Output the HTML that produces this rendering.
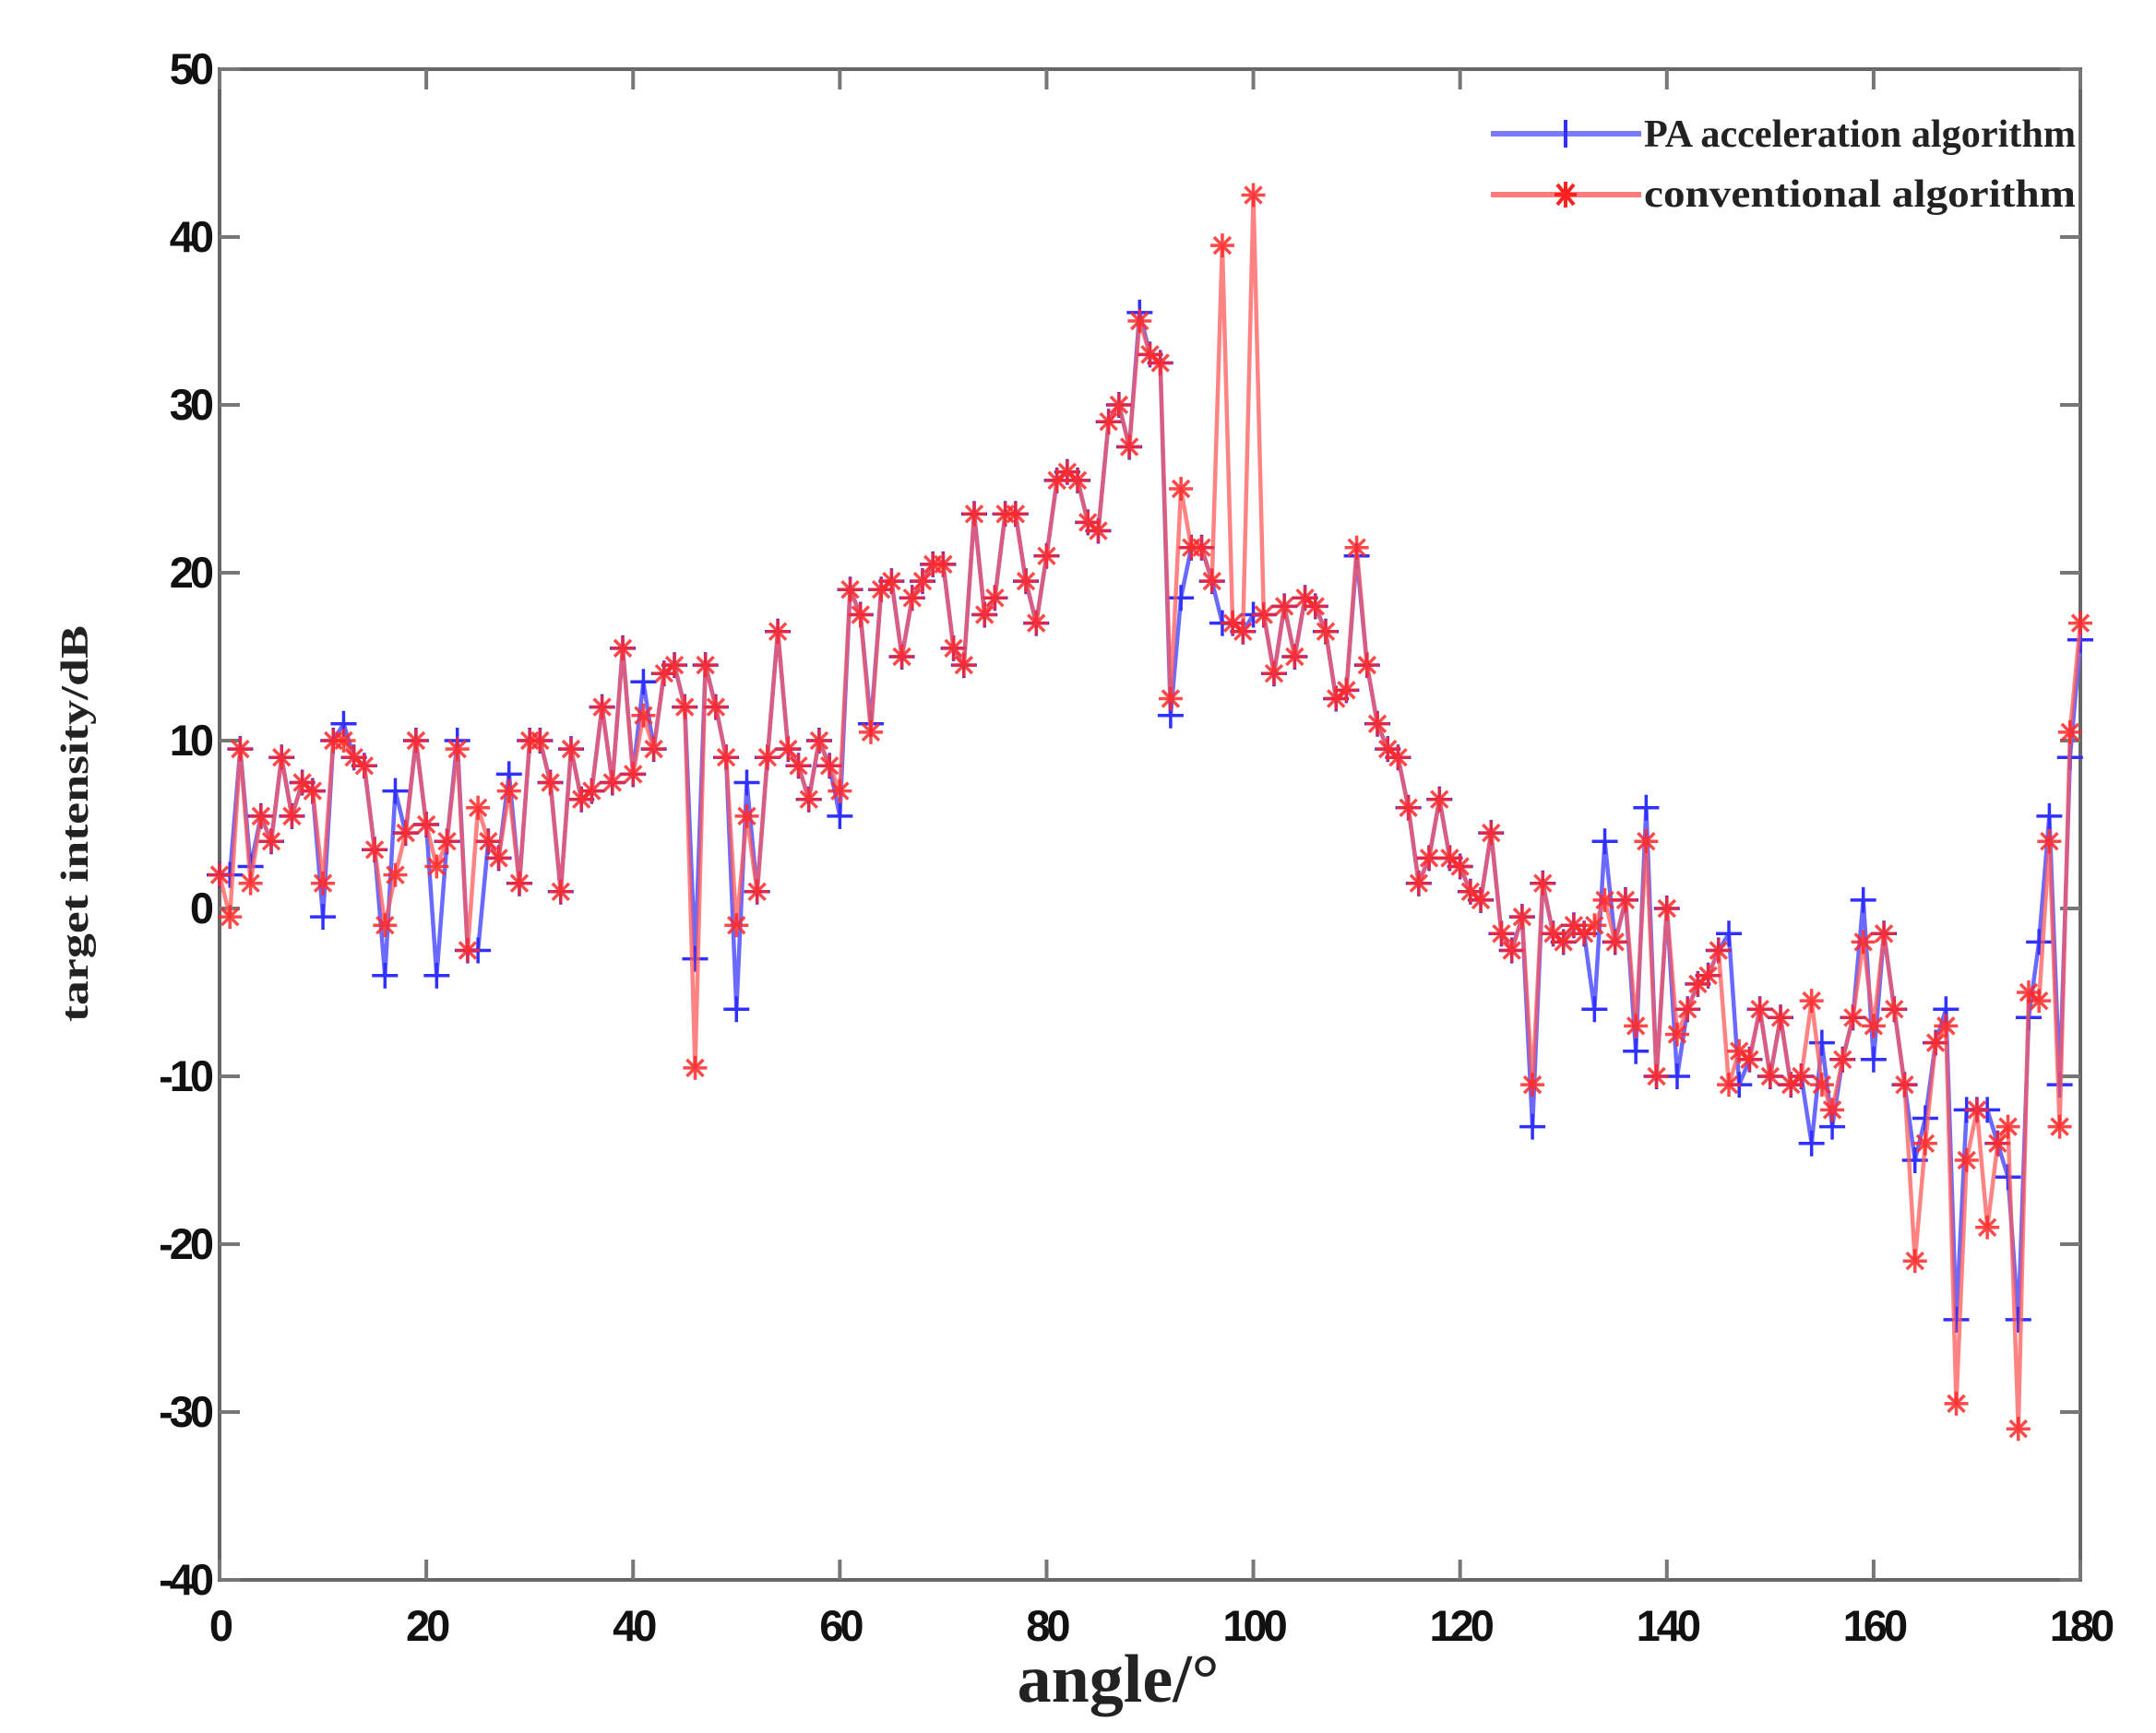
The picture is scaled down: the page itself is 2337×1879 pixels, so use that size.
<!DOCTYPE html>
<html><head><meta charset="utf-8"><style>
html,body{margin:0;padding:0;background:#fff;}
svg{display:block;}
</style></head><body>
<svg id="s" width="2337" height="1879" xmlns="http://www.w3.org/2000/svg"></svg>
<script>
const X0=238,X1=2255,Y0=75,Y1=1713;
const fx=a=>X0+(X1-X0)*a/180, fy=v=>Y1-(v+40)*(Y1-Y0)/90;
const red=[2,-0.5,9.5,1.5,5.5,4,9,5.5,7.5,7,1.5,10,10,9,8.5,3.5,-1,2,4.5,10,5,2.5,4,9.5,-2.5,6,4,3,7,1.5,10,10,7.5,1,9.5,6.5,7,12,7.5,15.5,8,11.5,9.5,14,14.5,12,-9.5,14.5,12,9,-1,5.5,1,9,16.5,9.5,8.5,6.5,10,8.5,7,19,17.5,10.5,19,19.5,15,18.5,19.5,20.5,20.5,15.5,14.5,23.5,17.5,18.5,23.5,23.5,19.5,17,21,25.5,26,25.5,23,22.5,29,30,27.5,35,33,32.5,12.5,25,21.5,21.5,19.5,39.5,17,16.5,42.5,17.5,14,18,15,18.5,18,16.5,12.5,13,21.5,14.5,11,9.5,9,6,1.5,3,6.5,3,2.5,1,0.5,4.5,-1.5,-2.5,-0.5,-10.5,1.5,-1.5,-2,-1,-1.5,-1,0.5,-2,0.5,-7,4,-10,0,-7.5,-6,-4.5,-4,-2.5,-10.5,-8.5,-9,-6,-10,-6.5,-10.5,-10,-5.5,-10.5,-12,-9,-6.5,-2,-7,-1.5,-6,-10.5,-21,-14,-8,-7,-29.5,-15,-12,-19,-14,-13,-31,-5,-5.5,4,-13,10.5,17];
const blue=red.slice();
const dev={1:2,3:2.5,10:-0.5,12:11,16:-4,17:7,21:-4,23:10,25:-2.5,28:8,41:13.5,46:-3,50:-6,51:7.5,60:5.5,63:11,89:35.5,92:11.5,93:18.5,97:17,100:17.5,110:21,127:-13,133:-6,134:4,137:-8.5,138:6,141:-10,146:-1.5,147:-10.5,154:-14,155:-8,156:-13,159:0.5,160:-9,164:-15,165:-12.5,167:-6,168:-24.5,169:-12,171:-12,173:-16,174:-24.5,175:-6.5,176:-2,177:5.5,178:-10.5,179:9,180:16};
for(const k in dev)blue[k]=dev[k];
let h='';
h+=`<rect x="${X0}" y="${Y0}" width="${X1-X0}" height="${Y1-Y0}" fill="none" stroke="#666" stroke-width="4"/>`;
const F='font-family="Liberation Sans, sans-serif" font-weight="bold" font-size="47" fill="#111"';
for(let a=0;a<=180;a+=20){const x=fx(a);
 h+=`<line x1="${x}" y1="${Y1}" x2="${x}" y2="${Y1-22}" stroke="#777" stroke-width="4"/><line x1="${x}" y1="${Y0}" x2="${x}" y2="${Y0+22}" stroke="#777" stroke-width="4"/>`;
 h+=`<text x="${x}" y="${Y1+66}" text-anchor="middle" ${F} letter-spacing="-4">${a}</text>`;}
for(let v=-40;v<=50;v+=10){const y=fy(v);
 h+=`<line x1="${X0}" y1="${y}" x2="${X0+22}" y2="${y}" stroke="#777" stroke-width="4"/><line x1="${X1}" y1="${y}" x2="${X1-22}" y2="${y}" stroke="#777" stroke-width="4"/>`;
 h+=`<text x="${X0-10}" y="${y+16}" text-anchor="end" ${F} letter-spacing="-4">${v}</text>`;}
function poly(d,c,w){return `<polyline fill="none" stroke="${c}" stroke-width="${w}" stroke-linejoin="round" points="${d.map((v,i)=>fx(i).toFixed(1)+','+fy(v).toFixed(1)).join(' ')}"/>`;}
h+=poly(blue,'#6a6aff',4.5);
for(let i=0;i<=180;i++){const x=fx(i),y=fy(blue[i]);h+=`<path d="M${x-14},${y}H${x+14}M${x},${y-14}V${y+14}" stroke="#3030ff" stroke-width="3.5"/>`;}
h+=poly(red,'rgba(255,90,90,0.75)',4.5);
for(let i=0;i<=180;i++){const x=fx(i),y=fy(red[i]);h+=`<path d="M${x-13},${y}H${x+13}M${x},${y-13}V${y+13}M${x-9},${y-9}L${x+9},${y+9}M${x-9},${y+9}L${x+9},${y-9}" stroke="rgba(255,40,40,0.85)" stroke-width="3.5"/>`;}
h+=`<line x1="1616" y1="145" x2="1779" y2="145" stroke="#7a7aff" stroke-width="6"/><path d="M1697,130V160" stroke="#3030ff" stroke-width="4"/>`;
h+=`<line x1="1616" y1="211" x2="1779" y2="211" stroke="#ff7a7a" stroke-width="6"/><path d="M1697,197V225M1685,211H1709M1688,200L1706,222M1688,222L1706,200" stroke="#ff2020" stroke-width="4"/>`;
const S='font-family="Liberation Serif, serif" font-weight="bold" font-size="42" fill="#222"';
h+=`<text x="1782" y="159" ${S} textLength="468" lengthAdjust="spacingAndGlyphs">PA acceleration algorithm</text>`;
h+=`<text x="1782" y="224" ${S} textLength="468" lengthAdjust="spacingAndGlyphs">conventional algorithm</text>`;
h+=`<text x="1212" y="1845" text-anchor="middle" font-family="Liberation Serif, serif" font-weight="bold" font-size="74" fill="#222">angle/°</text>`;
h+=`<text transform="translate(95,893) rotate(-90)" text-anchor="middle" font-family="Liberation Serif, serif" font-weight="bold" font-size="42" fill="#222" textLength="430" lengthAdjust="spacingAndGlyphs">target intensity/dB</text>`;
document.getElementById('s').innerHTML=h;
</script>
</body></html>
